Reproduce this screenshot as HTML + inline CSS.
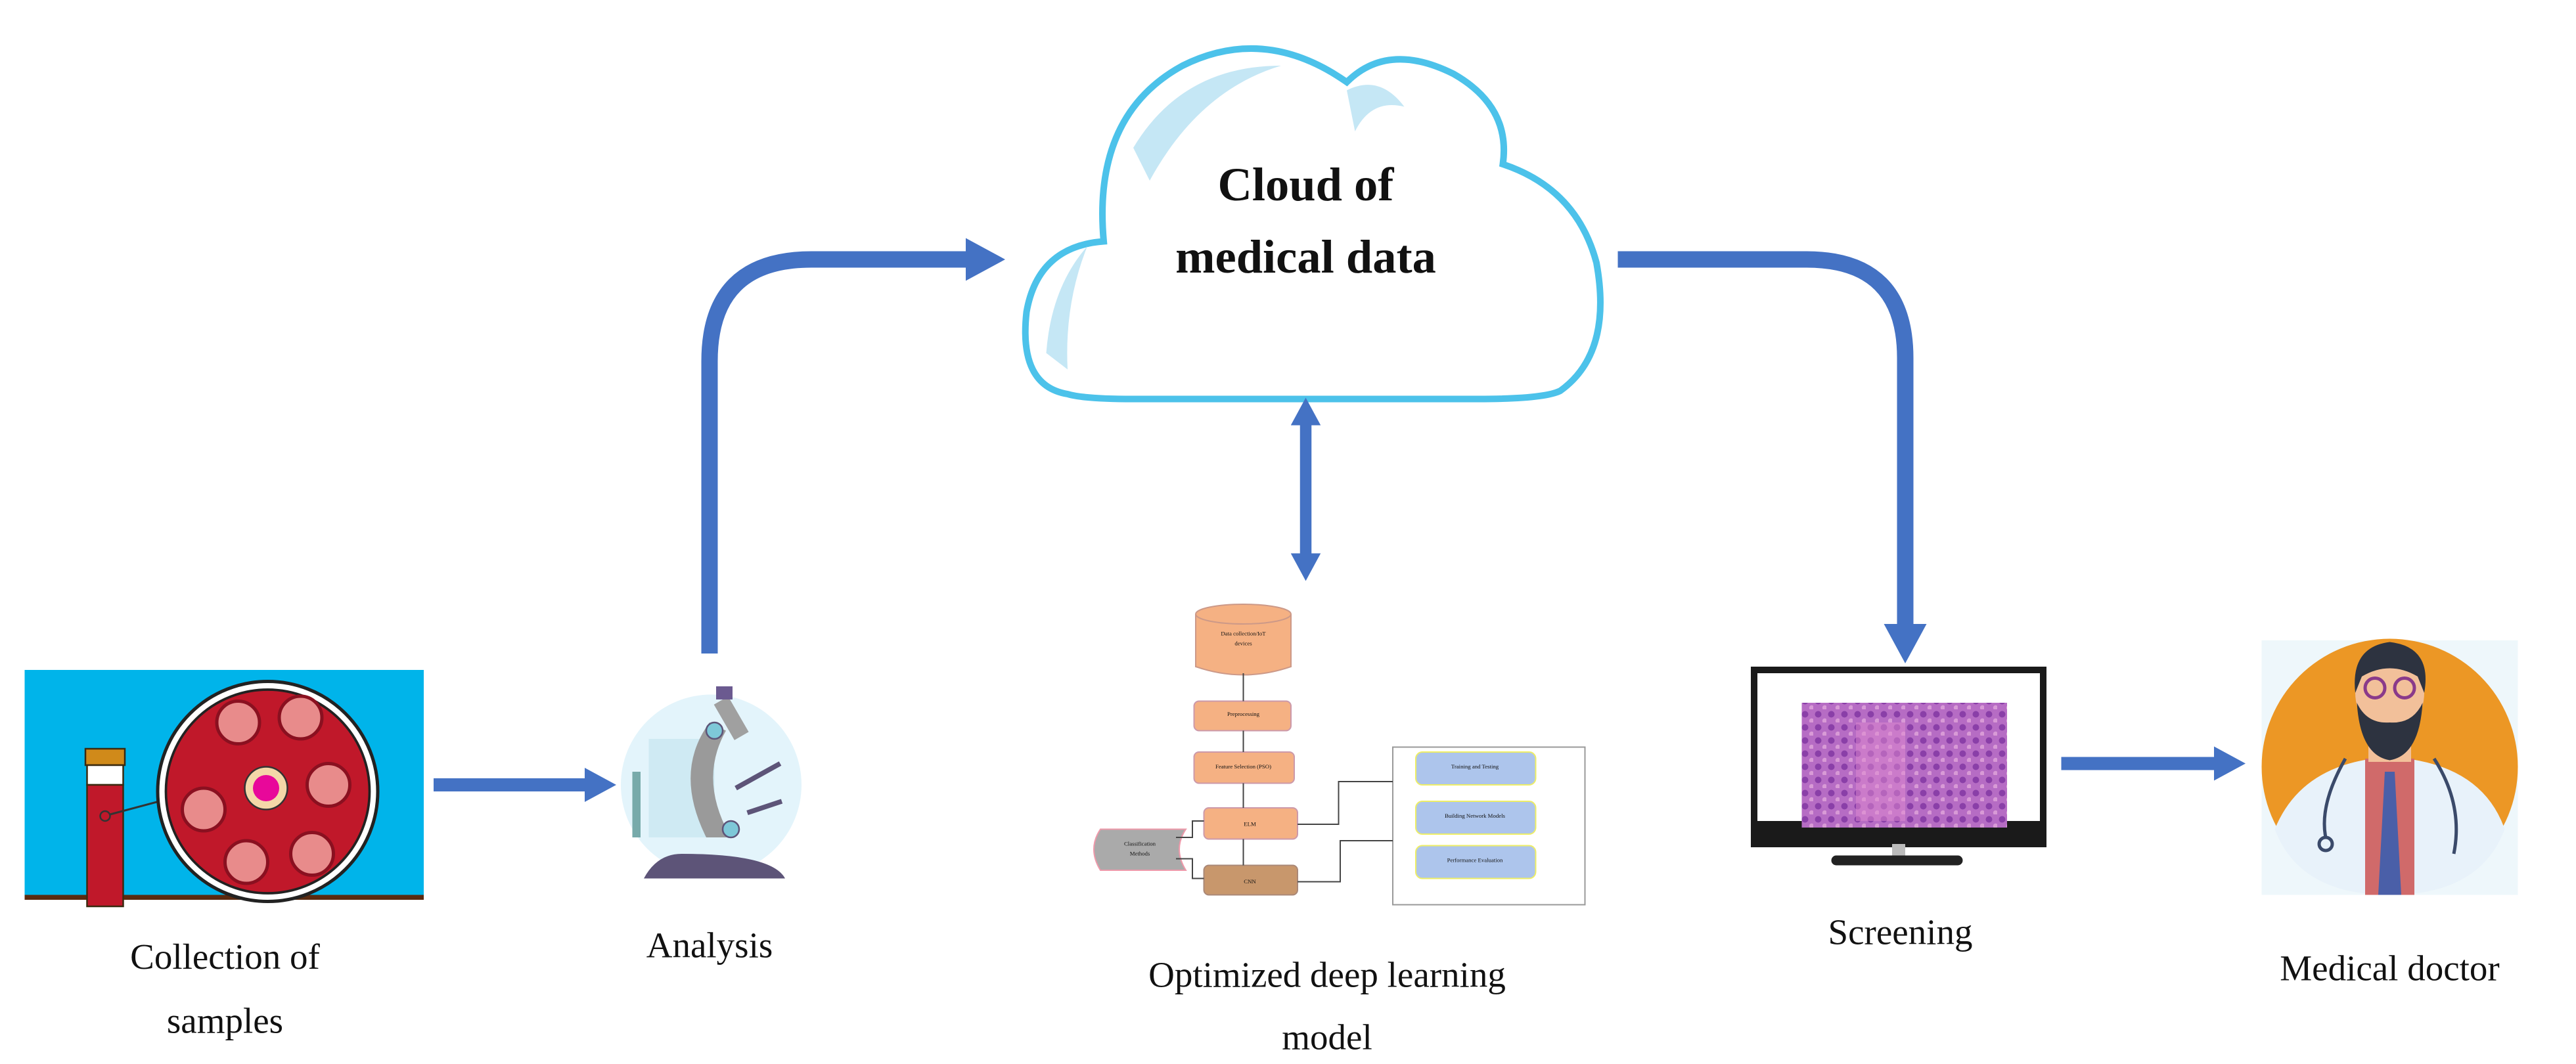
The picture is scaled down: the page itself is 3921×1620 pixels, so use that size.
<!DOCTYPE html>
<html><head><meta charset="utf-8"><style>
html,body{margin:0;padding:0;background:#fff;}
svg{display:block;}
text{font-family:"Liberation Serif",serif;fill:#111;}
</style></head><body>
<svg width="3921" height="1620" viewBox="0 0 1568.4 648" xmlns="http://www.w3.org/2000/svg">
<defs>
<marker id="ah" markerWidth="2.4" markerHeight="2.6" refX="1" refY="1.3" orient="auto" markerUnits="strokeWidth"><path d="M0,0 L2.4,1.3 L0,2.6 z" fill="#4472C4"/></marker>
<marker id="ahs" markerWidth="2.4" markerHeight="2.6" refX="1" refY="1.3" orient="auto-start-reverse" markerUnits="strokeWidth"><path d="M0,0 L2.4,1.3 L0,2.6 z" fill="#4472C4"/></marker>
<pattern id="tis" width="8" height="8" patternUnits="userSpaceOnUse"><rect width="8" height="8" fill="#b66cc4"/><circle cx="3" cy="3" r="2" fill="#8a3fa8"/><circle cx="7" cy="7" r="1.5" fill="#d89ad6"/></pattern>
</defs>

<!-- Collection of samples -->
<rect x="15" y="408" width="243" height="139" fill="#00b4ea"/>
<rect x="15" y="545" width="243" height="3" fill="#5a2a10"/>
<rect x="52" y="456" width="24" height="10" fill="#d08a1a" stroke="#3a2a10" stroke-width="1"/>
<rect x="53" y="466" width="22" height="12" fill="#fff" stroke="#3a2a10" stroke-width="1"/>
<rect x="53" y="478" width="22" height="74" fill="#c0182a" stroke="#3a2a10" stroke-width="1"/>
<circle cx="64" cy="497" r="3" fill="none" stroke="#333" stroke-width="1"/>
<line x1="67" y1="496" x2="112" y2="484" stroke="#333" stroke-width="1.2"/>
<circle cx="163" cy="482" r="67" fill="#fff" stroke="#222" stroke-width="2"/>
<circle cx="163" cy="482" r="62" fill="#c0182a" stroke="#222" stroke-width="1.5"/>
<g fill="#e88b8b" stroke="#8a1020" stroke-width="2">
<circle cx="145" cy="440" r="13"/><circle cx="183" cy="437" r="13"/><circle cx="200" cy="478" r="13"/>
<circle cx="124" cy="493" r="13"/><circle cx="150" cy="525" r="13"/><circle cx="190" cy="520" r="13"/></g>
<circle cx="162" cy="480" r="13" fill="#f4d7a8" stroke="#333" stroke-width="1"/>
<circle cx="162" cy="480" r="8" fill="#e8089a"/>

<line x1="264" y1="478" x2="364" y2="478" stroke="#4472C4" stroke-width="8" marker-end="url(#ah)"/>

<!-- Analysis microscope -->
<circle cx="433" cy="478" r="55" fill="#e3f4fb"/>
<rect x="395" y="450" width="40" height="60" fill="#cfeaf3"/>
<path d="M415,520 Q470,520 478,535 L392,535 Q400,520 415,520z" fill="#5d5478"/>
<path d="M430,510 Q410,470 432,440 L442,445 Q425,475 445,510z" fill="#9a9a9a"/>
<rect x="440" y="425" width="10" height="25" fill="#a0a0a0" transform="rotate(-30 445 437)"/>
<rect x="436" y="418" width="10" height="8" fill="#6b5a90"/>
<circle cx="435" cy="445" r="5" fill="#7ec8d8" stroke="#5d5478"/>
<circle cx="445" cy="505" r="5" fill="#7ec8d8" stroke="#5d5478"/>
<line x1="448" y1="480" x2="475" y2="465" stroke="#5d5478" stroke-width="3"/>
<line x1="455" y1="495" x2="476" y2="488" stroke="#5d5478" stroke-width="3"/>
<rect x="385" y="470" width="5" height="40" fill="#7aa" />

<!-- Up-and-right arrow -->
<path d="M432,398 L432,220 Q432,158 494,158 L598,158" fill="none" stroke="#4472C4" stroke-width="10" marker-end="url(#ah)"/>

<!-- Cloud -->
<path d="M650,240 Q620,235 625,190 Q632,150 672,147 Q665,70 720,40 Q770,15 820,50 Q845,25 885,45 Q920,65 915,100 Q960,115 972,160 Q982,215 950,238 Q940,243 900,243 L690,243 Q660,243 650,240z" fill="#fff" stroke="#4cc2ea" stroke-width="4"/>
<path d="M690,90 Q720,40 780,40 Q730,55 700,110z" fill="#c5e7f5"/>
<path d="M820,55 Q840,45 855,65 Q835,60 825,80z" fill="#c5e7f5"/>
<path d="M637,215 Q640,175 662,150 Q648,185 650,225z" fill="#c5e7f5"/>
<text x="795" y="122" font-size="29" font-weight="bold" text-anchor="middle">Cloud of</text>
<text x="795" y="166" font-size="29" font-weight="bold" text-anchor="middle">medical data</text>

<!-- double arrow -->
<line x1="795" y1="252" x2="795" y2="344" stroke="#4472C4" stroke-width="7" marker-start="url(#ahs)" marker-end="url(#ah)"/>

<!-- right-down arrow -->
<path d="M985,158 L1100,158 Q1160,158 1160,218 L1160,390" fill="none" stroke="#4472C4" stroke-width="10" marker-end="url(#ah)"/>

<!-- Flowchart -->
<g stroke-width="0.8" font-size="3.5">
<path d="M728,374 L728,406 Q757,416 786,406 L786,374" fill="#f5b183" stroke="#c98"/>
<ellipse cx="757" cy="374" rx="29" ry="6" fill="#f5b183" stroke="#c98"/>
<rect x="727" y="427" width="59" height="18" rx="3" fill="#f5b183" stroke="#c9a"/>
<rect x="727" y="458" width="61" height="19" rx="3" fill="#f5b183" stroke="#c9a"/>
<rect x="733" y="492" width="57" height="19" rx="3" fill="#f5b183" stroke="#c9a"/>
<rect x="733" y="527" width="57" height="18" rx="3" fill="#c8976c" stroke="#a87"/>
<path d="M670,505 L722,505 Q714,517 722,530 L670,530 Q662,517 670,505z" fill="#aaa" stroke="#e9a"/>
<rect x="848" y="455" width="117" height="96" fill="#fff" stroke="#999"/>
<rect x="862" y="458" width="73" height="20" rx="4" fill="#adc5ec" stroke="#ee6"/>
<rect x="862" y="488" width="73" height="20" rx="4" fill="#adc5ec" stroke="#ee6"/>
<rect x="862" y="515" width="73" height="20" rx="4" fill="#adc5ec" stroke="#ee6"/>
<g stroke="#444" fill="none">
<line x1="757" y1="410" x2="757" y2="427"/><line x1="757" y1="445" x2="757" y2="458"/><line x1="757" y1="477" x2="757" y2="492"/><line x1="757" y1="511" x2="757" y2="527"/>
<path d="M790,502 L815,502 L815,476 L848,476"/><path d="M790,537 L816,537 L816,512 L848,512"/>
<path d="M716,510 L726,510 L726,500 L733,500"/><path d="M716,523 L726,523 L726,535 L733,535"/>
</g>
<g fill="#555" stroke="none" text-anchor="middle">
<text x="757" y="387">Data collection/IoT</text><text x="757" y="393">devices</text>
<text x="757" y="436">Preprocessing</text><text x="757" y="468">Feature Selection (PSO)</text>
<text x="761" y="503">ELM</text><text x="761" y="538">CNN</text>
<text x="694" y="515">Classification</text><text x="694" y="521">Methods</text>
<text x="898" y="468">Training and Testing</text><text x="898" y="498">Building Network Models</text><text x="898" y="525">Performance Evaluation</text>
</g></g>

<!-- Monitor -->
<rect x="1068" y="408" width="176" height="106" fill="#fff" stroke="#1a1a1a" stroke-width="4"/>
<rect x="1068" y="500" width="176" height="14" fill="#1a1a1a"/>
<rect x="1097" y="428" width="125" height="76" fill="url(#tis)"/>
<rect x="1130" y="440" width="30" height="60" fill="#e08ad0" opacity="0.5"/>
<rect x="1152" y="514" width="8" height="10" fill="#bbb"/>
<rect x="1115" y="521" width="80" height="6" rx="3" fill="#222"/>

<line x1="1255" y1="465" x2="1356" y2="465" stroke="#4472C4" stroke-width="8" marker-end="url(#ah)"/>

<!-- Doctor -->
<rect x="1377" y="390" width="156" height="155" fill="#eef7fb"/>
<ellipse cx="1455" cy="467" rx="78" ry="78" fill="#ec9725"/>
<path d="M1385,505 Q1400,468 1445,462 L1465,462 Q1512,468 1525,505 Q1510,545 1455,545 Q1400,545 1385,505z" fill="#e8f2fa"/>
<rect x="1440" y="462" width="30" height="83" fill="#d06a6a"/>
<path d="M1452,470 L1458,470 L1462,545 L1448,545z" fill="#4a5fa8"/>
<rect x="1442" y="430" width="26" height="34" fill="#f2c09a"/>
<ellipse cx="1455" cy="422" rx="21" ry="25" fill="#f2c09a"/>
<path d="M1434,422 Q1431,394 1455,391 Q1481,394 1476,422 L1472,412 Q1455,402 1438,412z" fill="#2d3340"/>
<path d="M1435,428 Q1437,460 1455,463 Q1473,460 1475,428 Q1469,441 1455,440 Q1441,441 1435,428z" fill="#2d3340"/>
<circle cx="1446" cy="419" r="6" fill="none" stroke="#8a3a8a" stroke-width="2"/>
<circle cx="1464" cy="419" r="6" fill="none" stroke="#8a3a8a" stroke-width="2"/>
<path d="M1428,462 Q1412,490 1416,510" fill="none" stroke="#3a4a6a" stroke-width="2"/>
<path d="M1482,462 Q1500,490 1494,520" fill="none" stroke="#3a4a6a" stroke-width="2"/>
<circle cx="1416" cy="514" r="4" fill="none" stroke="#3a4a6a" stroke-width="2"/>

<!-- Labels -->
<g font-size="22" text-anchor="middle">
<text x="137" y="590">Collection of</text>
<text x="137" y="629">samples</text>
<text x="432" y="583">Analysis</text>
<text x="808" y="601">Optimized deep learning</text>
<text x="808" y="639">model</text>
<text x="1157" y="575">Screening</text>
<text x="1455" y="597">Medical doctor</text>
</g>
</svg>
</body></html>
